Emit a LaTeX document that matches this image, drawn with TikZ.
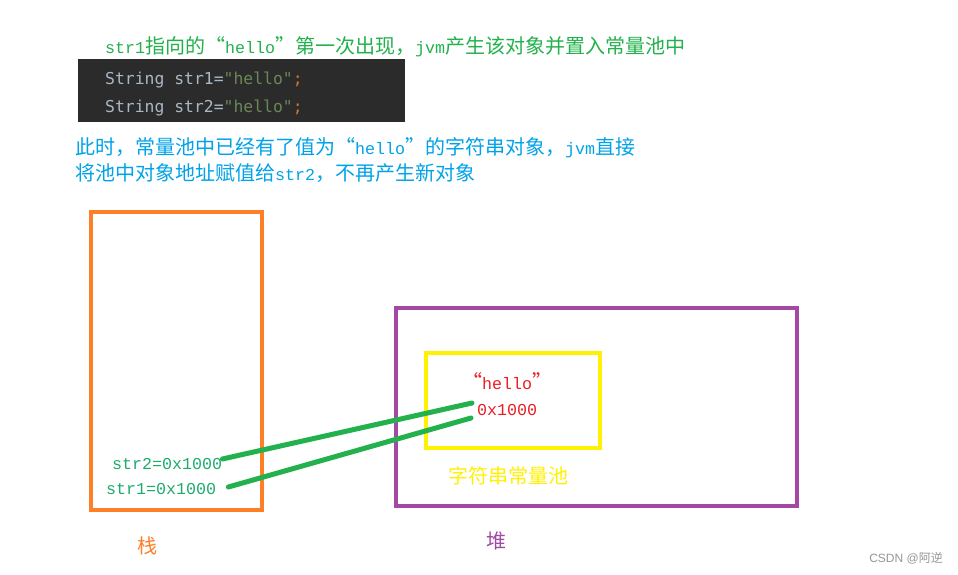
\documentclass[tikz,border=0pt]{standalone}
\usepackage{fontspec}
\setmainfont{Noto Sans CJK SC}
\newfontfamily\lat[Scale=0.833]{Liberation Mono}
\newfontfamily\codef{DejaVu Sans Mono}
\newfontfamily\csdnf{Liberation Sans}
\definecolor{titlegreen}{RGB}{34,177,76}
\definecolor{labgreen}{RGB}{30,172,110}
\definecolor{linegreen}{RGB}{34,177,76}
\definecolor{msgblue}{RGB}{0,162,232}
\definecolor{stackorange}{RGB}{255,127,39}
\definecolor{heappurple}{RGB}{163,73,164}
\definecolor{poolyellow}{RGB}{255,242,0}
\definecolor{valred}{RGB}{237,28,36}
\definecolor{codebg}{RGB}{43,43,43}
\definecolor{codegrey}{RGB}{169,183,198}
\definecolor{codestr}{RGB}{106,135,89}
\definecolor{codesemi}{RGB}{204,120,50}
\definecolor{csdngrey}{RGB}{150,150,150}
\begin{document}
\begin{tikzpicture}[x=1pt,y=-1pt,
  txt/.style={anchor=base west,inner sep=0pt,font=\fontsize{20}{24}\selectfont},
  codetxt/.style={anchor=base west,inner sep=0pt,font=\codef\fontsize{16.4}{20}\selectfont,text=codegrey},
  area/.style={draw,line width=4pt,anchor=north west,inner sep=0pt,outer sep=0pt},
  link/.style={draw=linegreen,line width=5pt,line cap=round}]
\useasboundingbox[fill=white] (0,0) rectangle (958,574);

% title
\node[txt,text=titlegreen] (title) at (105,53) {{\lat str1}指向的“{\lat hello}”第一次出现，{\lat jvm}产生该对象并置入常量池中};

% code box
\node[anchor=north west,fill=codebg,minimum width=327pt,minimum height=63pt,inner sep=0pt,outer sep=0pt] (code) at (78,59) {};
\node[codetxt] (c1) at (105,84) {String str1=\textcolor{codestr}{"hello"}\textcolor{codesemi}{;}};
\node[codetxt] (c2) at (105,112) {String str2=\textcolor{codestr}{"hello"}\textcolor{codesemi}{;}};

% explanation
\node[txt,text=msgblue] (m1) at (75,154) {此时，常量池中已经有了值为“{\lat hello}”的字符串对象，{\lat jvm}直接};
\node[txt,text=msgblue] (m2) at (75,180) {将池中对象地址赋值给{\lat str2}，不再产生新对象};

% stack
\node[area,draw=stackorange,minimum width=171pt,minimum height=298pt] (stack) at (91,212) {};
\node[txt,text=stackorange] (stacklab) at (137,553) {栈};

% heap
\node[area,draw=heappurple,minimum width=401pt,minimum height=198pt] (heap) at (396,308) {};
\node[txt,text=heappurple] (heaplab) at (486,548) {堆};

% pool
\node[area,draw=poolyellow,minimum width=174pt,minimum height=95pt] (pool) at (426,353) {};
\node[txt,text=poolyellow] (poollab) at (448,483) {字符串常量池};
\node[txt,text=valred] (hello) at (462,389) {“{\lat hello}”};
\node[txt,text=valred] (addr) at (477,415) {\lat 0x1000};

% variables
\node[txt,text=labgreen] (s2) at (112,469) {\lat str2=0x1000};
\node[txt,text=labgreen] (s1) at (106,494) {\lat str1=0x1000};

\coordinate (a2) at (472,403);
\coordinate (a1) at (471,418);
\path[link] ([xshift=0pt,yshift=10pt]s2.base east) -- (a2);
\path[link] ([xshift=12pt,yshift=7pt]s1.base east) -- (a1);

\node[anchor=base east,inner sep=0pt,text=csdngrey,font=\fontsize{12}{14}\selectfont] (csdn) at (943,562) {{\csdnf CSDN @}阿逆};
\end{tikzpicture}
\end{document}
